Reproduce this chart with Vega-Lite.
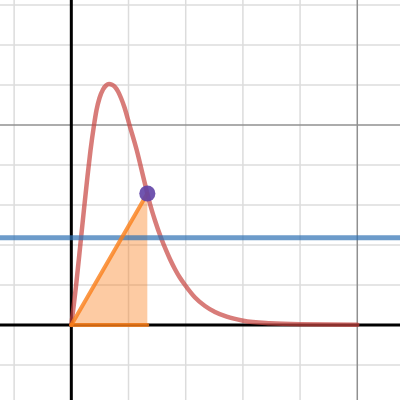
{
  "$schema": "https://vega.github.io/schema/vega-lite/v6.json",
  "width": 400,
  "height": 400,
  "padding": 0,
  "autosize": {"type": "none"},
  "config": {"view": {"stroke": null}},
  "datasets": {
    "minorX": [{"x": -1}, {"x": 1}, {"x": 2}, {"x": 3}, {"x": 4}],
    "minorY": [{"y": -1}, {"y": 1}, {"y": 2}, {"y": 3}, {"y": 4}, {"y": 6}, {"y": 7}, {"y": 8}],
    "majorX": [{"x": 5}],
    "majorY": [{"y": 5}],
    "axisX": [{"x": 0}],
    "axisY": [{"y": 0}],
    "curve": [
      {"x": 0, "y": 0},
      {"x": 0.086, "y": 1.025},
      {"x": 0.159, "y": 2.025},
      {"x": 0.2255, "y": 2.95},
      {"x": 0.2815, "y": 3.7},
      {"x": 0.334, "y": 4.35},
      {"x": 0.397, "y": 5.0},
      {"x": 0.4406, "y": 5.375},
      {"x": 0.493, "y": 5.675},
      {"x": 0.554, "y": 5.8875},
      {"x": 0.607, "y": 5.9875},
      {"x": 0.659, "y": 6.025},
      {"x": 0.7115, "y": 6.005},
      {"x": 0.764, "y": 5.95},
      {"x": 0.817, "y": 5.8375},
      {"x": 0.869, "y": 5.675},
      {"x": 0.93, "y": 5.4375},
      {"x": 1.017, "y": 5.0},
      {"x": 1.143, "y": 4.375},
      {"x": 1.271, "y": 3.625},
      {"x": 1.329, "y": 3.2875},
      {"x": 1.376, "y": 3.025},
      {"x": 1.463, "y": 2.6125},
      {"x": 1.568, "y": 2.1825},
      {"x": 1.656, "y": 1.87},
      {"x": 1.726, "y": 1.645},
      {"x": 1.813, "y": 1.395},
      {"x": 1.9, "y": 1.18},
      {"x": 1.988, "y": 1.0},
      {"x": 2.163, "y": 0.6875},
      {"x": 2.337, "y": 0.475},
      {"x": 2.512, "y": 0.325},
      {"x": 2.717, "y": 0.2075},
      {"x": 3.007, "y": 0.1075},
      {"x": 3.474, "y": 0.0425},
      {"x": 3.999, "y": 0.0175},
      {"x": 5.0, "y": 0.0075}
    ],
    "tri": [{"x": 0, "y": 0}, {"x": 1.329, "y": 3.2875}],
    "base": [{"x": 0, "y": 0}, {"x": 1.329, "y": 0}],
    "pt": [{"x": 1.329, "y": 3.2875}],
    "level": [{"y": 2.18}]
  },
  "encoding": {
    "x": {"field": "x", "type": "quantitative", "axis": null,
      "scale": {"domain": [-1.247, 5.747], "nice": false, "zero": false}},
    "y": {"field": "y", "type": "quantitative", "axis": null,
      "scale": {"domain": [-1.875, 8.125], "nice": false, "zero": false}}
  },
  "layer": [
    {"data": {"name": "minorX"}, "mark": {"type": "rule", "color": "#dcdcdc", "strokeWidth": 1.5}, "encoding": {"y": null}},
    {"data": {"name": "minorY"}, "mark": {"type": "rule", "color": "#dcdcdc", "strokeWidth": 1.5}, "encoding": {"x": null}},
    {"data": {"name": "majorX"}, "mark": {"type": "rule", "color": "#909090", "strokeWidth": 1.5}, "encoding": {"y": null}},
    {"data": {"name": "majorY"}, "mark": {"type": "rule", "color": "#909090", "strokeWidth": 1.5}, "encoding": {"x": null}},
    {"data": {"name": "axisX"}, "mark": {"type": "rule", "color": "#000000", "strokeWidth": 3}, "encoding": {"y": null}},
    {"data": {"name": "axisY"}, "mark": {"type": "rule", "color": "#000000", "strokeWidth": 3}, "encoding": {"x": null}},
    {"data": {"name": "tri"}, "mark": {"type": "area", "color": "#fa7e19", "opacity": 0.4},
      "encoding": {"y2": {"datum": 0}}},
    {"data": {"name": "curve"}, "mark": {"type": "line", "color": "#c74440", "opacity": 0.7, "strokeWidth": 4.5, "strokeCap": "round", "strokeJoin": "round", "interpolate": "monotone"}},
    {"data": {"name": "level"}, "mark": {"type": "rule", "color": "#2d70b3", "opacity": 0.7, "strokeWidth": 5}, "encoding": {"x": null}},
    {"data": {"name": "tri"}, "mark": {"type": "line", "color": "#fa7e19", "opacity": 0.8, "strokeWidth": 4, "strokeCap": "round"}},
    {"data": {"name": "base"}, "mark": {"type": "line", "color": "#fa7e19", "opacity": 0.8, "strokeWidth": 4, "strokeCap": "round"}},
    {"data": {"name": "pt"}, "mark": {"type": "point", "filled": true, "color": "#6042a6", "opacity": 0.9, "size": 260}}
  ]
}
